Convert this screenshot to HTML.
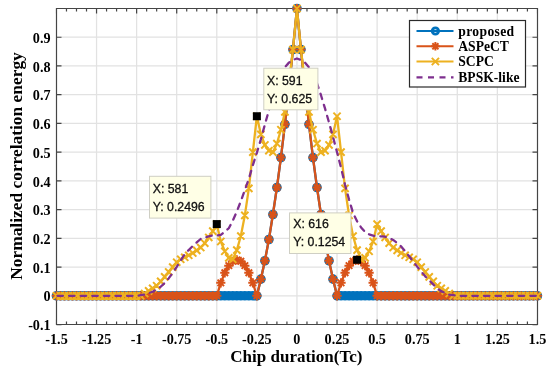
<!DOCTYPE html><html><head><meta charset="utf-8"><style>html,body{margin:0;padding:0;background:#fff;width:550px;height:370px;overflow:hidden}</style></head><body><svg width="550" height="370" viewBox="0 0 550 370" style="position:absolute;left:0;top:0">
<rect x="0" y="0" width="550" height="370" fill="#fff"/>
<path d="M96.54,8.5V324.5M136.62,8.5V324.5M176.70,8.5V324.5M216.78,8.5V324.5M256.87,8.5V324.5M296.95,8.5V324.5M337.03,8.5V324.5M377.12,8.5V324.5M417.20,8.5V324.5M457.28,8.5V324.5M497.36,8.5V324.5M56.5,295.80H537.5M56.5,267.07H537.5M56.5,238.34H537.5M56.5,209.61H537.5M56.5,180.88H537.5M56.5,152.15H537.5M56.5,123.42H537.5M56.5,94.69H537.5M56.5,65.96H537.5M56.5,37.23H537.5" stroke="#e2e2e2" stroke-width="1.25" fill="none"/>
<path d="M56.5,8.5H537.5V324.5H56.5ZM56.45,324.5v-5M56.45,8.5v5M96.54,324.5v-5M96.54,8.5v5M136.62,324.5v-5M136.62,8.5v5M176.7,324.5v-5M176.7,8.5v5M216.78,324.5v-5M216.78,8.5v5M256.87,324.5v-5M256.87,8.5v5M296.95,324.5v-5M296.95,8.5v5M337.03,324.5v-5M337.03,8.5v5M377.12,324.5v-5M377.12,8.5v5M417.2,324.5v-5M417.2,8.5v5M457.28,324.5v-5M457.28,8.5v5M497.36,324.5v-5M497.36,8.5v5M537.44,324.5v-5M537.44,8.5v5M66.48,324.5v-3M66.48,8.5v3M76.5,324.5v-3M76.5,8.5v3M86.52,324.5v-3M86.52,8.5v3M106.56,324.5v-3M106.56,8.5v3M116.58,324.5v-3M116.58,8.5v3M126.6,324.5v-3M126.6,8.5v3M146.64,324.5v-3M146.64,8.5v3M156.66,324.5v-3M156.66,8.5v3M166.68,324.5v-3M166.68,8.5v3M186.72,324.5v-3M186.72,8.5v3M196.74,324.5v-3M196.74,8.5v3M206.76,324.5v-3M206.76,8.5v3M226.81,324.5v-3M226.81,8.5v3M236.83,324.5v-3M236.83,8.5v3M246.85,324.5v-3M246.85,8.5v3M266.89,324.5v-3M266.89,8.5v3M276.91,324.5v-3M276.91,8.5v3M286.93,324.5v-3M286.93,8.5v3M306.97,324.5v-3M306.97,8.5v3M316.99,324.5v-3M316.99,8.5v3M327.01,324.5v-3M327.01,8.5v3M347.05,324.5v-3M347.05,8.5v3M357.07,324.5v-3M357.07,8.5v3M367.09,324.5v-3M367.09,8.5v3M387.14,324.5v-3M387.14,8.5v3M397.16,324.5v-3M397.16,8.5v3M407.18,324.5v-3M407.18,8.5v3M427.22,324.5v-3M427.22,8.5v3M437.24,324.5v-3M437.24,8.5v3M447.26,324.5v-3M447.26,8.5v3M467.3,324.5v-3M467.3,8.5v3M477.32,324.5v-3M477.32,8.5v3M487.34,324.5v-3M487.34,8.5v3M507.38,324.5v-3M507.38,8.5v3M517.4,324.5v-3M517.4,8.5v3M527.42,324.5v-3M527.42,8.5v3M56.5,324.53h5M537.5,324.53h-5M56.5,295.8h5M537.5,295.8h-5M56.5,267.07h5M537.5,267.07h-5M56.5,238.34h5M537.5,238.34h-5M56.5,209.61h5M537.5,209.61h-5M56.5,180.88h5M537.5,180.88h-5M56.5,152.15h5M537.5,152.15h-5M56.5,123.42h5M537.5,123.42h-5M56.5,94.69h5M537.5,94.69h-5M56.5,65.96h5M537.5,65.96h-5M56.5,37.23h5M537.5,37.23h-5" stroke="#454545" stroke-width="1.2" fill="none"/>
<polyline points="56.45,295.80 60.46,295.80 64.47,295.80 68.48,295.80 72.49,295.80 76.50,295.80 80.50,295.80 84.51,295.80 88.52,295.80 92.53,295.80 96.54,295.80 100.55,295.80 104.55,295.80 108.56,295.80 112.57,295.80 116.58,295.80 120.59,295.80 124.60,295.80 128.60,295.80 132.61,295.80 136.62,295.80 140.63,295.80 144.64,295.80 148.64,295.80 152.65,295.80 156.66,295.80 160.67,295.80 164.68,295.80 168.69,295.80 172.69,295.80 176.70,295.80 180.71,295.80 184.72,295.80 188.73,295.80 192.74,295.80 196.74,295.80 200.75,295.80 204.76,295.80 208.77,295.80 212.78,295.80 216.78,295.80 220.79,295.80 224.80,295.80 228.81,295.80 232.82,295.80 236.83,295.80 240.83,295.80 244.84,295.80 248.85,295.80 252.86,295.80 256.87,295.80 260.88,279.14 264.88,260.75 268.89,239.49 272.90,214.49 276.91,187.49 280.92,157.61 284.93,124.28 288.93,87.51 292.94,49.58 296.95,8.50 300.96,49.58 304.97,87.51 308.97,124.28 312.98,157.61 316.99,187.49 321.00,214.49 325.01,239.49 329.02,260.75 333.02,279.14 337.03,295.80 341.04,295.80 345.05,295.80 349.06,295.80 353.07,295.80 357.07,295.80 361.08,295.80 365.09,295.80 369.10,295.80 373.11,295.80 377.12,295.80 381.12,295.80 385.13,295.80 389.14,295.80 393.15,295.80 397.16,295.80 401.16,295.80 405.17,295.80 409.18,295.80 413.19,295.80 417.20,295.80 421.21,295.80 425.21,295.80 429.22,295.80 433.23,295.80 437.24,295.80 441.25,295.80 445.26,295.80 449.26,295.80 453.27,295.80 457.28,295.80 461.29,295.80 465.30,295.80 469.30,295.80 473.31,295.80 477.32,295.80 481.33,295.80 485.34,295.80 489.35,295.80 493.35,295.80 497.36,295.80 501.37,295.80 505.38,295.80 509.39,295.80 513.40,295.80 517.40,295.80 521.41,295.80 525.42,295.80 529.43,295.80 533.44,295.80 537.44,295.80" fill="none" stroke="#0072BD" stroke-width="2.3" stroke-linejoin="round" stroke-linecap="round" />
<g><circle cx="56.45" cy="295.80" r="3.5" fill="#0072BD" stroke="#0072BD" stroke-width="2.6"/><circle cx="60.46" cy="295.80" r="3.5" fill="#0072BD" stroke="#0072BD" stroke-width="2.6"/><circle cx="64.47" cy="295.80" r="3.5" fill="#0072BD" stroke="#0072BD" stroke-width="2.6"/><circle cx="68.48" cy="295.80" r="3.5" fill="#0072BD" stroke="#0072BD" stroke-width="2.6"/><circle cx="72.49" cy="295.80" r="3.5" fill="#0072BD" stroke="#0072BD" stroke-width="2.6"/><circle cx="76.50" cy="295.80" r="3.5" fill="#0072BD" stroke="#0072BD" stroke-width="2.6"/><circle cx="80.50" cy="295.80" r="3.5" fill="#0072BD" stroke="#0072BD" stroke-width="2.6"/><circle cx="84.51" cy="295.80" r="3.5" fill="#0072BD" stroke="#0072BD" stroke-width="2.6"/><circle cx="88.52" cy="295.80" r="3.5" fill="#0072BD" stroke="#0072BD" stroke-width="2.6"/><circle cx="92.53" cy="295.80" r="3.5" fill="#0072BD" stroke="#0072BD" stroke-width="2.6"/><circle cx="96.54" cy="295.80" r="3.5" fill="#0072BD" stroke="#0072BD" stroke-width="2.6"/><circle cx="100.55" cy="295.80" r="3.5" fill="#0072BD" stroke="#0072BD" stroke-width="2.6"/><circle cx="104.55" cy="295.80" r="3.5" fill="#0072BD" stroke="#0072BD" stroke-width="2.6"/><circle cx="108.56" cy="295.80" r="3.5" fill="#0072BD" stroke="#0072BD" stroke-width="2.6"/><circle cx="112.57" cy="295.80" r="3.5" fill="#0072BD" stroke="#0072BD" stroke-width="2.6"/><circle cx="116.58" cy="295.80" r="3.5" fill="#0072BD" stroke="#0072BD" stroke-width="2.6"/><circle cx="120.59" cy="295.80" r="3.5" fill="#0072BD" stroke="#0072BD" stroke-width="2.6"/><circle cx="124.60" cy="295.80" r="3.5" fill="#0072BD" stroke="#0072BD" stroke-width="2.6"/><circle cx="128.60" cy="295.80" r="3.5" fill="#0072BD" stroke="#0072BD" stroke-width="2.6"/><circle cx="132.61" cy="295.80" r="3.5" fill="#0072BD" stroke="#0072BD" stroke-width="2.6"/><circle cx="136.62" cy="295.80" r="3.5" fill="#0072BD" stroke="#0072BD" stroke-width="2.6"/><circle cx="140.63" cy="295.80" r="3.5" fill="#0072BD" stroke="#0072BD" stroke-width="2.6"/><circle cx="144.64" cy="295.80" r="3.5" fill="#0072BD" stroke="#0072BD" stroke-width="2.6"/><circle cx="148.64" cy="295.80" r="3.5" fill="#0072BD" stroke="#0072BD" stroke-width="2.6"/><circle cx="152.65" cy="295.80" r="3.5" fill="#0072BD" stroke="#0072BD" stroke-width="2.6"/><circle cx="156.66" cy="295.80" r="3.5" fill="#0072BD" stroke="#0072BD" stroke-width="2.6"/><circle cx="160.67" cy="295.80" r="3.5" fill="#0072BD" stroke="#0072BD" stroke-width="2.6"/><circle cx="164.68" cy="295.80" r="3.5" fill="#0072BD" stroke="#0072BD" stroke-width="2.6"/><circle cx="168.69" cy="295.80" r="3.5" fill="#0072BD" stroke="#0072BD" stroke-width="2.6"/><circle cx="172.69" cy="295.80" r="3.5" fill="#0072BD" stroke="#0072BD" stroke-width="2.6"/><circle cx="176.70" cy="295.80" r="3.5" fill="#0072BD" stroke="#0072BD" stroke-width="2.6"/><circle cx="180.71" cy="295.80" r="3.5" fill="#0072BD" stroke="#0072BD" stroke-width="2.6"/><circle cx="184.72" cy="295.80" r="3.5" fill="#0072BD" stroke="#0072BD" stroke-width="2.6"/><circle cx="188.73" cy="295.80" r="3.5" fill="#0072BD" stroke="#0072BD" stroke-width="2.6"/><circle cx="192.74" cy="295.80" r="3.5" fill="#0072BD" stroke="#0072BD" stroke-width="2.6"/><circle cx="196.74" cy="295.80" r="3.5" fill="#0072BD" stroke="#0072BD" stroke-width="2.6"/><circle cx="200.75" cy="295.80" r="3.5" fill="#0072BD" stroke="#0072BD" stroke-width="2.6"/><circle cx="204.76" cy="295.80" r="3.5" fill="#0072BD" stroke="#0072BD" stroke-width="2.6"/><circle cx="208.77" cy="295.80" r="3.5" fill="#0072BD" stroke="#0072BD" stroke-width="2.6"/><circle cx="212.78" cy="295.80" r="3.5" fill="#0072BD" stroke="#0072BD" stroke-width="2.6"/><circle cx="216.78" cy="295.80" r="3.5" fill="#0072BD" stroke="#0072BD" stroke-width="2.6"/><circle cx="220.79" cy="295.80" r="3.5" fill="#0072BD" stroke="#0072BD" stroke-width="2.6"/><circle cx="224.80" cy="295.80" r="3.5" fill="#0072BD" stroke="#0072BD" stroke-width="2.6"/><circle cx="228.81" cy="295.80" r="3.5" fill="#0072BD" stroke="#0072BD" stroke-width="2.6"/><circle cx="232.82" cy="295.80" r="3.5" fill="#0072BD" stroke="#0072BD" stroke-width="2.6"/><circle cx="236.83" cy="295.80" r="3.5" fill="#0072BD" stroke="#0072BD" stroke-width="2.6"/><circle cx="240.83" cy="295.80" r="3.5" fill="#0072BD" stroke="#0072BD" stroke-width="2.6"/><circle cx="244.84" cy="295.80" r="3.5" fill="#0072BD" stroke="#0072BD" stroke-width="2.6"/><circle cx="248.85" cy="295.80" r="3.5" fill="#0072BD" stroke="#0072BD" stroke-width="2.6"/><circle cx="252.86" cy="295.80" r="3.5" fill="#0072BD" stroke="#0072BD" stroke-width="2.6"/><circle cx="256.87" cy="295.80" r="3.5" fill="#0072BD" stroke="#0072BD" stroke-width="2.6"/><circle cx="260.88" cy="279.14" r="3.5" fill="#0072BD" stroke="#0072BD" stroke-width="2.6"/><circle cx="264.88" cy="260.75" r="3.5" fill="#0072BD" stroke="#0072BD" stroke-width="2.6"/><circle cx="268.89" cy="239.49" r="3.5" fill="#0072BD" stroke="#0072BD" stroke-width="2.6"/><circle cx="272.90" cy="214.49" r="3.5" fill="#0072BD" stroke="#0072BD" stroke-width="2.6"/><circle cx="276.91" cy="187.49" r="3.5" fill="#0072BD" stroke="#0072BD" stroke-width="2.6"/><circle cx="280.92" cy="157.61" r="3.5" fill="#0072BD" stroke="#0072BD" stroke-width="2.6"/><circle cx="284.93" cy="124.28" r="3.5" fill="#0072BD" stroke="#0072BD" stroke-width="2.6"/><circle cx="288.93" cy="87.51" r="3.5" fill="#0072BD" stroke="#0072BD" stroke-width="2.6"/><circle cx="292.94" cy="49.58" r="3.5" fill="#0072BD" stroke="#0072BD" stroke-width="2.6"/><circle cx="296.95" cy="8.50" r="3.5" fill="#0072BD" stroke="#0072BD" stroke-width="2.6"/><circle cx="300.96" cy="49.58" r="3.5" fill="#0072BD" stroke="#0072BD" stroke-width="2.6"/><circle cx="304.97" cy="87.51" r="3.5" fill="#0072BD" stroke="#0072BD" stroke-width="2.6"/><circle cx="308.97" cy="124.28" r="3.5" fill="#0072BD" stroke="#0072BD" stroke-width="2.6"/><circle cx="312.98" cy="157.61" r="3.5" fill="#0072BD" stroke="#0072BD" stroke-width="2.6"/><circle cx="316.99" cy="187.49" r="3.5" fill="#0072BD" stroke="#0072BD" stroke-width="2.6"/><circle cx="321.00" cy="214.49" r="3.5" fill="#0072BD" stroke="#0072BD" stroke-width="2.6"/><circle cx="325.01" cy="239.49" r="3.5" fill="#0072BD" stroke="#0072BD" stroke-width="2.6"/><circle cx="329.02" cy="260.75" r="3.5" fill="#0072BD" stroke="#0072BD" stroke-width="2.6"/><circle cx="333.02" cy="279.14" r="3.5" fill="#0072BD" stroke="#0072BD" stroke-width="2.6"/><circle cx="337.03" cy="295.80" r="3.5" fill="#0072BD" stroke="#0072BD" stroke-width="2.6"/><circle cx="341.04" cy="295.80" r="3.5" fill="#0072BD" stroke="#0072BD" stroke-width="2.6"/><circle cx="345.05" cy="295.80" r="3.5" fill="#0072BD" stroke="#0072BD" stroke-width="2.6"/><circle cx="349.06" cy="295.80" r="3.5" fill="#0072BD" stroke="#0072BD" stroke-width="2.6"/><circle cx="353.07" cy="295.80" r="3.5" fill="#0072BD" stroke="#0072BD" stroke-width="2.6"/><circle cx="357.07" cy="295.80" r="3.5" fill="#0072BD" stroke="#0072BD" stroke-width="2.6"/><circle cx="361.08" cy="295.80" r="3.5" fill="#0072BD" stroke="#0072BD" stroke-width="2.6"/><circle cx="365.09" cy="295.80" r="3.5" fill="#0072BD" stroke="#0072BD" stroke-width="2.6"/><circle cx="369.10" cy="295.80" r="3.5" fill="#0072BD" stroke="#0072BD" stroke-width="2.6"/><circle cx="373.11" cy="295.80" r="3.5" fill="#0072BD" stroke="#0072BD" stroke-width="2.6"/><circle cx="377.12" cy="295.80" r="3.5" fill="#0072BD" stroke="#0072BD" stroke-width="2.6"/><circle cx="381.12" cy="295.80" r="3.5" fill="#0072BD" stroke="#0072BD" stroke-width="2.6"/><circle cx="385.13" cy="295.80" r="3.5" fill="#0072BD" stroke="#0072BD" stroke-width="2.6"/><circle cx="389.14" cy="295.80" r="3.5" fill="#0072BD" stroke="#0072BD" stroke-width="2.6"/><circle cx="393.15" cy="295.80" r="3.5" fill="#0072BD" stroke="#0072BD" stroke-width="2.6"/><circle cx="397.16" cy="295.80" r="3.5" fill="#0072BD" stroke="#0072BD" stroke-width="2.6"/><circle cx="401.16" cy="295.80" r="3.5" fill="#0072BD" stroke="#0072BD" stroke-width="2.6"/><circle cx="405.17" cy="295.80" r="3.5" fill="#0072BD" stroke="#0072BD" stroke-width="2.6"/><circle cx="409.18" cy="295.80" r="3.5" fill="#0072BD" stroke="#0072BD" stroke-width="2.6"/><circle cx="413.19" cy="295.80" r="3.5" fill="#0072BD" stroke="#0072BD" stroke-width="2.6"/><circle cx="417.20" cy="295.80" r="3.5" fill="#0072BD" stroke="#0072BD" stroke-width="2.6"/><circle cx="421.21" cy="295.80" r="3.5" fill="#0072BD" stroke="#0072BD" stroke-width="2.6"/><circle cx="425.21" cy="295.80" r="3.5" fill="#0072BD" stroke="#0072BD" stroke-width="2.6"/><circle cx="429.22" cy="295.80" r="3.5" fill="#0072BD" stroke="#0072BD" stroke-width="2.6"/><circle cx="433.23" cy="295.80" r="3.5" fill="#0072BD" stroke="#0072BD" stroke-width="2.6"/><circle cx="437.24" cy="295.80" r="3.5" fill="#0072BD" stroke="#0072BD" stroke-width="2.6"/><circle cx="441.25" cy="295.80" r="3.5" fill="#0072BD" stroke="#0072BD" stroke-width="2.6"/><circle cx="445.26" cy="295.80" r="3.5" fill="#0072BD" stroke="#0072BD" stroke-width="2.6"/><circle cx="449.26" cy="295.80" r="3.5" fill="#0072BD" stroke="#0072BD" stroke-width="2.6"/><circle cx="453.27" cy="295.80" r="3.5" fill="#0072BD" stroke="#0072BD" stroke-width="2.6"/><circle cx="457.28" cy="295.80" r="3.5" fill="#0072BD" stroke="#0072BD" stroke-width="2.6"/><circle cx="461.29" cy="295.80" r="3.5" fill="#0072BD" stroke="#0072BD" stroke-width="2.6"/><circle cx="465.30" cy="295.80" r="3.5" fill="#0072BD" stroke="#0072BD" stroke-width="2.6"/><circle cx="469.30" cy="295.80" r="3.5" fill="#0072BD" stroke="#0072BD" stroke-width="2.6"/><circle cx="473.31" cy="295.80" r="3.5" fill="#0072BD" stroke="#0072BD" stroke-width="2.6"/><circle cx="477.32" cy="295.80" r="3.5" fill="#0072BD" stroke="#0072BD" stroke-width="2.6"/><circle cx="481.33" cy="295.80" r="3.5" fill="#0072BD" stroke="#0072BD" stroke-width="2.6"/><circle cx="485.34" cy="295.80" r="3.5" fill="#0072BD" stroke="#0072BD" stroke-width="2.6"/><circle cx="489.35" cy="295.80" r="3.5" fill="#0072BD" stroke="#0072BD" stroke-width="2.6"/><circle cx="493.35" cy="295.80" r="3.5" fill="#0072BD" stroke="#0072BD" stroke-width="2.6"/><circle cx="497.36" cy="295.80" r="3.5" fill="#0072BD" stroke="#0072BD" stroke-width="2.6"/><circle cx="501.37" cy="295.80" r="3.5" fill="#0072BD" stroke="#0072BD" stroke-width="2.6"/><circle cx="505.38" cy="295.80" r="3.5" fill="#0072BD" stroke="#0072BD" stroke-width="2.6"/><circle cx="509.39" cy="295.80" r="3.5" fill="#0072BD" stroke="#0072BD" stroke-width="2.6"/><circle cx="513.40" cy="295.80" r="3.5" fill="#0072BD" stroke="#0072BD" stroke-width="2.6"/><circle cx="517.40" cy="295.80" r="3.5" fill="#0072BD" stroke="#0072BD" stroke-width="2.6"/><circle cx="521.41" cy="295.80" r="3.5" fill="#0072BD" stroke="#0072BD" stroke-width="2.6"/><circle cx="525.42" cy="295.80" r="3.5" fill="#0072BD" stroke="#0072BD" stroke-width="2.6"/><circle cx="529.43" cy="295.80" r="3.5" fill="#0072BD" stroke="#0072BD" stroke-width="2.6"/><circle cx="533.44" cy="295.80" r="3.5" fill="#0072BD" stroke="#0072BD" stroke-width="2.6"/><circle cx="537.44" cy="295.80" r="3.5" fill="#0072BD" stroke="#0072BD" stroke-width="2.6"/></g>
<polyline points="56.45,295.80 60.46,295.80 64.47,295.80 68.48,295.80 72.49,295.80 76.50,295.80 80.50,295.80 84.51,295.80 88.52,295.80 92.53,295.80 96.54,295.80 100.55,295.80 104.55,295.80 108.56,295.80 112.57,295.80 116.58,295.80 120.59,295.80 124.60,295.80 128.60,295.80 132.61,295.80 136.62,295.80 140.63,295.80 144.64,295.80 148.64,295.80 152.65,295.80 156.66,295.80 160.67,295.80 164.68,295.80 168.69,295.80 172.69,295.80 176.70,295.80 180.71,295.80 184.72,295.80 188.73,295.80 192.74,295.80 196.74,295.80 200.75,295.80 204.76,295.80 208.77,295.80 212.78,295.80 216.78,295.80 220.79,282.87 224.80,272.82 228.81,265.63 232.82,261.32 236.83,259.89 240.83,261.32 244.84,265.63 248.85,272.82 252.86,282.87 256.87,295.80 260.88,279.14 264.88,260.75 268.89,239.49 272.90,214.49 276.91,187.49 280.92,157.61 284.93,124.28 288.93,87.51 292.94,49.58 296.95,8.50 300.96,49.58 304.97,87.51 308.97,124.28 312.98,157.61 316.99,187.49 321.00,214.49 325.01,239.49 329.02,260.75 333.02,279.14 337.03,295.80 341.04,282.87 345.05,272.82 349.06,265.63 353.07,261.32 357.07,259.89 361.08,261.32 365.09,265.63 369.10,272.82 373.11,282.87 377.12,295.80 381.12,295.80 385.13,295.80 389.14,295.80 393.15,295.80 397.16,295.80 401.16,295.80 405.17,295.80 409.18,295.80 413.19,295.80 417.20,295.80 421.21,295.80 425.21,295.80 429.22,295.80 433.23,295.80 437.24,295.80 441.25,295.80 445.26,295.80 449.26,295.80 453.27,295.80 457.28,295.80 461.29,295.80 465.30,295.80 469.30,295.80 473.31,295.80 477.32,295.80 481.33,295.80 485.34,295.80 489.35,295.80 493.35,295.80 497.36,295.80 501.37,295.80 505.38,295.80 509.39,295.80 513.40,295.80 517.40,295.80 521.41,295.80 525.42,295.80 529.43,295.80 533.44,295.80 537.44,295.80" fill="none" stroke="#D95319" stroke-width="2.3" stroke-linejoin="round" stroke-linecap="round" />
<path d="M51.85,295.80H61.05M56.45,291.20V300.40M53.20,292.55L59.71,299.05M53.20,299.05L59.71,292.55M55.86,295.80H65.06M60.46,291.20V300.40M57.21,292.55L63.72,299.05M57.21,299.05L63.72,292.55M59.87,295.80H69.07M64.47,291.20V300.40M61.22,292.55L67.72,299.05M61.22,299.05L67.72,292.55M63.88,295.80H73.08M68.48,291.20V300.40M65.23,292.55L71.73,299.05M65.23,299.05L71.73,292.55M67.89,295.80H77.09M72.49,291.20V300.40M69.24,292.55L75.74,299.05M69.24,299.05L75.74,292.55M71.90,295.80H81.10M76.50,291.20V300.40M73.24,292.55L79.75,299.05M73.24,299.05L79.75,292.55M75.90,295.80H85.10M80.50,291.20V300.40M77.25,292.55L83.76,299.05M77.25,299.05L83.76,292.55M79.91,295.80H89.11M84.51,291.20V300.40M81.26,292.55L87.77,299.05M81.26,299.05L87.77,292.55M83.92,295.80H93.12M88.52,291.20V300.40M85.27,292.55L91.77,299.05M85.27,299.05L91.77,292.55M87.93,295.80H97.13M92.53,291.20V300.40M89.28,292.55L95.78,299.05M89.28,299.05L95.78,292.55M91.94,295.80H101.14M96.54,291.20V300.40M93.28,292.55L99.79,299.05M93.28,299.05L99.79,292.55M95.95,295.80H105.15M100.55,291.20V300.40M97.29,292.55L103.80,299.05M97.29,299.05L103.80,292.55M99.95,295.80H109.15M104.55,291.20V300.40M101.30,292.55L107.81,299.05M101.30,299.05L107.81,292.55M103.96,295.80H113.16M108.56,291.20V300.40M105.31,292.55L111.81,299.05M105.31,299.05L111.81,292.55M107.97,295.80H117.17M112.57,291.20V300.40M109.32,292.55L115.82,299.05M109.32,299.05L115.82,292.55M111.98,295.80H121.18M116.58,291.20V300.40M113.33,292.55L119.83,299.05M113.33,299.05L119.83,292.55M115.99,295.80H125.19M120.59,291.20V300.40M117.33,292.55L123.84,299.05M117.33,299.05L123.84,292.55M120.00,295.80H129.20M124.60,291.20V300.40M121.34,292.55L127.85,299.05M121.34,299.05L127.85,292.55M124.00,295.80H133.20M128.60,291.20V300.40M125.35,292.55L131.86,299.05M125.35,299.05L131.86,292.55M128.01,295.80H137.21M132.61,291.20V300.40M129.36,292.55L135.86,299.05M129.36,299.05L135.86,292.55M132.02,295.80H141.22M136.62,291.20V300.40M133.37,292.55L139.87,299.05M133.37,299.05L139.87,292.55M136.03,295.80H145.23M140.63,291.20V300.40M137.38,292.55L143.88,299.05M137.38,299.05L143.88,292.55M140.04,295.80H149.24M144.64,291.20V300.40M141.38,292.55L147.89,299.05M141.38,299.05L147.89,292.55M144.04,295.80H153.24M148.64,291.20V300.40M145.39,292.55L151.90,299.05M145.39,299.05L151.90,292.55M148.05,295.80H157.25M152.65,291.20V300.40M149.40,292.55L155.91,299.05M149.40,299.05L155.91,292.55M152.06,295.80H161.26M156.66,291.20V300.40M153.41,292.55L159.91,299.05M153.41,299.05L159.91,292.55M156.07,295.80H165.27M160.67,291.20V300.40M157.42,292.55L163.92,299.05M157.42,299.05L163.92,292.55M160.08,295.80H169.28M164.68,291.20V300.40M161.43,292.55L167.93,299.05M161.43,299.05L167.93,292.55M164.09,295.80H173.29M168.69,291.20V300.40M165.43,292.55L171.94,299.05M165.43,299.05L171.94,292.55M168.09,295.80H177.29M172.69,291.20V300.40M169.44,292.55L175.95,299.05M169.44,299.05L175.95,292.55M172.10,295.80H181.30M176.70,291.20V300.40M173.45,292.55L179.96,299.05M173.45,299.05L179.96,292.55M176.11,295.80H185.31M180.71,291.20V300.40M177.46,292.55L183.96,299.05M177.46,299.05L183.96,292.55M180.12,295.80H189.32M184.72,291.20V300.40M181.47,292.55L187.97,299.05M181.47,299.05L187.97,292.55M184.13,295.80H193.33M188.73,291.20V300.40M185.47,292.55L191.98,299.05M185.47,299.05L191.98,292.55M188.14,295.80H197.34M192.74,291.20V300.40M189.48,292.55L195.99,299.05M189.48,299.05L195.99,292.55M192.14,295.80H201.34M196.74,291.20V300.40M193.49,292.55L200.00,299.05M193.49,299.05L200.00,292.55M196.15,295.80H205.35M200.75,291.20V300.40M197.50,292.55L204.00,299.05M197.50,299.05L204.00,292.55M200.16,295.80H209.36M204.76,291.20V300.40M201.51,292.55L208.01,299.05M201.51,299.05L208.01,292.55M204.17,295.80H213.37M208.77,291.20V300.40M205.52,292.55L212.02,299.05M205.52,299.05L212.02,292.55M208.18,295.80H217.38M212.78,291.20V300.40M209.52,292.55L216.03,299.05M209.52,299.05L216.03,292.55M212.18,295.80H221.38M216.78,291.20V300.40M213.53,292.55L220.04,299.05M213.53,299.05L220.04,292.55M216.19,282.87H225.39M220.79,278.27V287.47M217.54,279.62L224.05,286.12M217.54,286.12L224.05,279.62M220.20,272.82H229.40M224.80,268.22V277.42M221.55,269.56L228.05,276.07M221.55,276.07L228.05,269.56M224.21,265.63H233.41M228.81,261.03V270.23M225.56,262.38L232.06,268.89M225.56,268.89L232.06,262.38M228.22,261.32H237.42M232.82,256.72V265.92M229.57,258.07L236.07,264.58M229.57,264.58L236.07,258.07M232.23,259.89H241.43M236.83,255.29V264.49M233.57,256.63L240.08,263.14M233.57,263.14L240.08,256.63M236.23,261.32H245.43M240.83,256.72V265.92M237.58,258.07L244.09,264.58M237.58,264.58L244.09,258.07M240.24,265.63H249.44M244.84,261.03V270.23M241.59,262.38L248.10,268.89M241.59,268.89L248.10,262.38M244.25,272.82H253.45M248.85,268.22V277.42M245.60,269.56L252.10,276.07M245.60,276.07L252.10,269.56M248.26,282.87H257.46M252.86,278.27V287.47M249.61,279.62L256.11,286.12M249.61,286.12L256.11,279.62M252.27,295.80H261.47M256.87,291.20V300.40M253.61,292.55L260.12,299.05M253.61,299.05L260.12,292.55M256.28,279.14H265.48M260.88,274.54V283.74M257.62,275.88L264.13,282.39M257.62,282.39L264.13,275.88M260.28,260.75H269.48M264.88,256.15V265.35M261.63,257.50L268.14,264.00M261.63,264.00L268.14,257.50M264.29,239.49H273.49M268.89,234.89V244.09M265.64,236.24L272.14,242.74M265.64,242.74L272.14,236.24M268.30,214.49H277.50M272.90,209.89V219.09M269.65,211.24L276.15,217.75M269.65,217.75L276.15,211.24M272.31,187.49H281.51M276.91,182.89V192.09M273.66,184.24L280.16,190.74M273.66,190.74L280.16,184.24M276.32,157.61H285.52M280.92,153.01V162.21M277.66,154.36L284.17,160.86M277.66,160.86L284.17,154.36M280.33,124.28H289.53M284.93,119.68V128.88M281.67,121.03L288.18,127.53M281.67,127.53L288.18,121.03M284.33,87.51H293.53M288.93,82.91V92.11M285.68,84.25L292.19,90.76M285.68,90.76L292.19,84.25M288.34,49.58H297.54M292.94,44.98V54.18M289.69,46.33L296.19,52.84M289.69,52.84L296.19,46.33M292.35,8.50H301.55M296.95,3.90V13.10M293.70,5.25L300.20,11.75M293.70,11.75L300.20,5.25M296.36,49.58H305.56M300.96,44.98V54.18M297.71,46.33L304.21,52.84M297.71,52.84L304.21,46.33M300.37,87.51H309.57M304.97,82.91V92.11M301.71,84.25L308.22,90.76M301.71,90.76L308.22,84.25M304.37,124.28H313.57M308.97,119.68V128.88M305.72,121.03L312.23,127.53M305.72,127.53L312.23,121.03M308.38,157.61H317.58M312.98,153.01V162.21M309.73,154.36L316.24,160.86M309.73,160.86L316.24,154.36M312.39,187.49H321.59M316.99,182.89V192.09M313.74,184.24L320.24,190.74M313.74,190.74L320.24,184.24M316.40,214.49H325.60M321.00,209.89V219.09M317.75,211.24L324.25,217.75M317.75,217.75L324.25,211.24M320.41,239.49H329.61M325.01,234.89V244.09M321.76,236.24L328.26,242.74M321.76,242.74L328.26,236.24M324.42,260.75H333.62M329.02,256.15V265.35M325.76,257.50L332.27,264.00M325.76,264.00L332.27,257.50M328.42,279.14H337.62M333.02,274.54V283.74M329.77,275.88L336.28,282.39M329.77,282.39L336.28,275.88M332.43,295.80H341.63M337.03,291.20V300.40M333.78,292.55L340.29,299.05M333.78,299.05L340.29,292.55M336.44,282.87H345.64M341.04,278.27V287.47M337.79,279.62L344.29,286.12M337.79,286.12L344.29,279.62M340.45,272.82H349.65M345.05,268.22V277.42M341.80,269.56L348.30,276.07M341.80,276.07L348.30,269.56M344.46,265.63H353.66M349.06,261.03V270.23M345.80,262.38L352.31,268.89M345.80,268.89L352.31,262.38M348.47,261.32H357.67M353.07,256.72V265.92M349.81,258.07L356.32,264.58M349.81,264.58L356.32,258.07M352.47,259.89H361.67M357.07,255.29V264.49M353.82,256.63L360.33,263.14M353.82,263.14L360.33,256.63M356.48,261.32H365.68M361.08,256.72V265.92M357.83,258.07L364.33,264.58M357.83,264.58L364.33,258.07M360.49,265.63H369.69M365.09,261.03V270.23M361.84,262.38L368.34,268.89M361.84,268.89L368.34,262.38M364.50,272.82H373.70M369.10,268.22V277.42M365.85,269.56L372.35,276.07M365.85,276.07L372.35,269.56M368.51,282.87H377.71M373.11,278.27V287.47M369.85,279.62L376.36,286.12M369.85,286.12L376.36,279.62M372.51,295.80H381.72M377.12,291.20V300.40M373.86,292.55L380.37,299.05M373.86,299.05L380.37,292.55M376.52,295.80H385.72M381.12,291.20V300.40M377.87,292.55L384.38,299.05M377.87,299.05L384.38,292.55M380.53,295.80H389.73M385.13,291.20V300.40M381.88,292.55L388.38,299.05M381.88,299.05L388.38,292.55M384.54,295.80H393.74M389.14,291.20V300.40M385.89,292.55L392.39,299.05M385.89,299.05L392.39,292.55M388.55,295.80H397.75M393.15,291.20V300.40M389.90,292.55L396.40,299.05M389.90,299.05L396.40,292.55M392.56,295.80H401.76M397.16,291.20V300.40M393.90,292.55L400.41,299.05M393.90,299.05L400.41,292.55M396.56,295.80H405.76M401.16,291.20V300.40M397.91,292.55L404.42,299.05M397.91,299.05L404.42,292.55M400.57,295.80H409.77M405.17,291.20V300.40M401.92,292.55L408.43,299.05M401.92,299.05L408.43,292.55M404.58,295.80H413.78M409.18,291.20V300.40M405.93,292.55L412.43,299.05M405.93,299.05L412.43,292.55M408.59,295.80H417.79M413.19,291.20V300.40M409.94,292.55L416.44,299.05M409.94,299.05L416.44,292.55M412.60,295.80H421.80M417.20,291.20V300.40M413.94,292.55L420.45,299.05M413.94,299.05L420.45,292.55M416.61,295.80H425.81M421.21,291.20V300.40M417.95,292.55L424.46,299.05M417.95,299.05L424.46,292.55M420.61,295.80H429.81M425.21,291.20V300.40M421.96,292.55L428.47,299.05M421.96,299.05L428.47,292.55M424.62,295.80H433.82M429.22,291.20V300.40M425.97,292.55L432.47,299.05M425.97,299.05L432.47,292.55M428.63,295.80H437.83M433.23,291.20V300.40M429.98,292.55L436.48,299.05M429.98,299.05L436.48,292.55M432.64,295.80H441.84M437.24,291.20V300.40M433.99,292.55L440.49,299.05M433.99,299.05L440.49,292.55M436.65,295.80H445.85M441.25,291.20V300.40M437.99,292.55L444.50,299.05M437.99,299.05L444.50,292.55M440.66,295.80H449.86M445.26,291.20V300.40M442.00,292.55L448.51,299.05M442.00,299.05L448.51,292.55M444.66,295.80H453.86M449.26,291.20V300.40M446.01,292.55L452.52,299.05M446.01,299.05L452.52,292.55M448.67,295.80H457.87M453.27,291.20V300.40M450.02,292.55L456.52,299.05M450.02,299.05L456.52,292.55M452.68,295.80H461.88M457.28,291.20V300.40M454.03,292.55L460.53,299.05M454.03,299.05L460.53,292.55M456.69,295.80H465.89M461.29,291.20V300.40M458.04,292.55L464.54,299.05M458.04,299.05L464.54,292.55M460.70,295.80H469.90M465.30,291.20V300.40M462.04,292.55L468.55,299.05M462.04,299.05L468.55,292.55M464.70,295.80H473.90M469.30,291.20V300.40M466.05,292.55L472.56,299.05M466.05,299.05L472.56,292.55M468.71,295.80H477.91M473.31,291.20V300.40M470.06,292.55L476.57,299.05M470.06,299.05L476.57,292.55M472.72,295.80H481.92M477.32,291.20V300.40M474.07,292.55L480.57,299.05M474.07,299.05L480.57,292.55M476.73,295.80H485.93M481.33,291.20V300.40M478.08,292.55L484.58,299.05M478.08,299.05L484.58,292.55M480.74,295.80H489.94M485.34,291.20V300.40M482.09,292.55L488.59,299.05M482.09,299.05L488.59,292.55M484.75,295.80H493.95M489.35,291.20V300.40M486.09,292.55L492.60,299.05M486.09,299.05L492.60,292.55M488.75,295.80H497.95M493.35,291.20V300.40M490.10,292.55L496.61,299.05M490.10,299.05L496.61,292.55M492.76,295.80H501.96M497.36,291.20V300.40M494.11,292.55L500.62,299.05M494.11,299.05L500.62,292.55M496.77,295.80H505.97M501.37,291.20V300.40M498.12,292.55L504.62,299.05M498.12,299.05L504.62,292.55M500.78,295.80H509.98M505.38,291.20V300.40M502.13,292.55L508.63,299.05M502.13,299.05L508.63,292.55M504.79,295.80H513.99M509.39,291.20V300.40M506.13,292.55L512.64,299.05M506.13,299.05L512.64,292.55M508.80,295.80H518.00M513.40,291.20V300.40M510.14,292.55L516.65,299.05M510.14,299.05L516.65,292.55M512.80,295.80H522.00M517.40,291.20V300.40M514.15,292.55L520.66,299.05M514.15,299.05L520.66,292.55M516.81,295.80H526.01M521.41,291.20V300.40M518.16,292.55L524.66,299.05M518.16,299.05L524.66,292.55M520.82,295.80H530.02M525.42,291.20V300.40M522.17,292.55L528.67,299.05M522.17,299.05L528.67,292.55M524.83,295.80H534.03M529.43,291.20V300.40M526.18,292.55L532.68,299.05M526.18,299.05L532.68,292.55M528.84,295.80H538.04M533.44,291.20V300.40M530.18,292.55L536.69,299.05M530.18,299.05L536.69,292.55M532.84,295.80H542.04M537.44,291.20V300.40M534.19,292.55L540.70,299.05M534.19,299.05L540.70,292.55" stroke="#D95319" stroke-width="2" fill="none"/>
<polyline points="56.45,295.80 60.46,295.80 64.47,295.80 68.48,295.80 72.49,295.80 76.50,295.80 80.50,295.80 84.51,295.80 88.52,295.80 92.53,295.80 96.54,295.80 100.55,295.80 104.55,295.80 108.56,295.80 112.57,295.80 116.58,295.80 120.59,295.80 124.60,295.80 128.60,295.80 132.61,295.80 136.62,295.80 140.63,295.80 144.64,293.50 148.64,290.92 152.65,288.33 156.66,285.74 160.67,281.44 164.68,276.84 168.69,271.95 172.69,267.07 176.70,262.19 180.71,259.31 184.72,257.30 188.73,255.29 192.74,252.99 196.74,250.41 200.75,247.53 204.76,243.22 208.77,237.48 212.78,231.16 216.78,224.09 220.79,241.50 224.80,251.27 228.81,257.88 232.82,259.31 236.83,250.12 240.83,236.04 244.84,215.36 248.85,188.35 252.86,152.15 256.87,116.24 260.88,134.34 264.88,144.97 268.89,150.71 272.90,152.15 276.91,143.53 280.92,129.74 284.93,111.93 288.93,83.20 292.94,49.58 296.95,8.50 300.96,49.58 304.97,83.20 308.97,111.93 312.98,129.74 316.99,143.53 321.00,152.15 325.01,150.71 329.02,144.97 333.02,134.34 337.03,116.24 341.04,152.15 345.05,188.35 349.06,215.36 353.07,236.04 357.07,250.12 361.08,259.31 365.09,257.88 369.10,251.27 373.11,241.50 377.12,224.09 381.12,231.16 385.13,237.48 389.14,243.22 393.15,247.53 397.16,250.41 401.16,252.99 405.17,255.29 409.18,257.30 413.19,259.31 417.20,262.19 421.21,267.07 425.21,271.95 429.22,276.84 433.23,281.44 437.24,285.74 441.25,288.33 445.26,290.92 449.26,293.50 453.27,295.80 457.28,295.80 461.29,295.80 465.30,295.80 469.30,295.80 473.31,295.80 477.32,295.80 481.33,295.80 485.34,295.80 489.35,295.80 493.35,295.80 497.36,295.80 501.37,295.80 505.38,295.80 509.39,295.80 513.40,295.80 517.40,295.80 521.41,295.80 525.42,295.80 529.43,295.80 533.44,295.80 537.44,295.80" fill="none" stroke="#EDB120" stroke-width="2.3" stroke-linejoin="round" stroke-linecap="round" />
<path d="M52.85,292.20L60.05,299.40M52.85,299.40L60.05,292.20M56.86,292.20L64.06,299.40M56.86,299.40L64.06,292.20M60.87,292.20L68.07,299.40M60.87,299.40L68.07,292.20M64.88,292.20L72.08,299.40M64.88,299.40L72.08,292.20M68.89,292.20L76.09,299.40M68.89,299.40L76.09,292.20M72.90,292.20L80.10,299.40M72.90,299.40L80.10,292.20M76.90,292.20L84.10,299.40M76.90,299.40L84.10,292.20M80.91,292.20L88.11,299.40M80.91,299.40L88.11,292.20M84.92,292.20L92.12,299.40M84.92,299.40L92.12,292.20M88.93,292.20L96.13,299.40M88.93,299.40L96.13,292.20M92.94,292.20L100.14,299.40M92.94,299.40L100.14,292.20M96.95,292.20L104.15,299.40M96.95,299.40L104.15,292.20M100.95,292.20L108.15,299.40M100.95,299.40L108.15,292.20M104.96,292.20L112.16,299.40M104.96,299.40L112.16,292.20M108.97,292.20L116.17,299.40M108.97,299.40L116.17,292.20M112.98,292.20L120.18,299.40M112.98,299.40L120.18,292.20M116.99,292.20L124.19,299.40M116.99,299.40L124.19,292.20M121.00,292.20L128.20,299.40M121.00,299.40L128.20,292.20M125.00,292.20L132.20,299.40M125.00,299.40L132.20,292.20M129.01,292.20L136.21,299.40M129.01,299.40L136.21,292.20M133.02,292.20L140.22,299.40M133.02,299.40L140.22,292.20M137.03,292.20L144.23,299.40M137.03,299.40L144.23,292.20M141.04,289.90L148.24,297.10M141.04,297.10L148.24,289.90M145.04,287.32L152.24,294.52M145.04,294.52L152.24,287.32M149.05,284.73L156.25,291.93M149.05,291.93L156.25,284.73M153.06,282.14L160.26,289.34M153.06,289.34L160.26,282.14M157.07,277.83L164.27,285.04M157.07,285.04L164.27,277.83M161.08,273.24L168.28,280.44M161.08,280.44L168.28,273.24M165.09,268.35L172.29,275.55M165.09,275.55L172.29,268.35M169.09,263.47L176.29,270.67M169.09,270.67L176.29,263.47M173.10,258.59L180.30,265.79M173.10,265.79L180.30,258.59M177.11,255.71L184.31,262.91M177.11,262.91L184.31,255.71M181.12,253.70L188.32,260.90M181.12,260.90L188.32,253.70M185.13,251.69L192.33,258.89M185.13,258.89L192.33,251.69M189.14,249.39L196.34,256.59M189.14,256.59L196.34,249.39M193.14,246.81L200.34,254.01M193.14,254.01L200.34,246.81M197.15,243.93L204.35,251.13M197.15,251.13L204.35,243.93M201.16,239.62L208.36,246.82M201.16,246.82L208.36,239.62M205.17,233.88L212.37,241.08M205.17,241.08L212.37,233.88M209.18,227.56L216.38,234.76M209.18,234.76L216.38,227.56M213.18,220.49L220.38,227.69M213.18,227.69L220.38,220.49M217.19,237.90L224.39,245.10M217.19,245.10L224.39,237.90M221.20,247.67L228.40,254.87M221.20,254.87L228.40,247.67M225.21,254.28L232.41,261.48M225.21,261.48L232.41,254.28M229.22,255.71L236.42,262.91M229.22,262.91L236.42,255.71M233.23,246.52L240.43,253.72M233.23,253.72L240.43,246.52M237.23,232.44L244.43,239.64M237.23,239.64L244.43,232.44M241.24,211.76L248.44,218.96M241.24,218.96L248.44,211.76M245.25,184.75L252.45,191.95M245.25,191.95L252.45,184.75M249.26,148.55L256.46,155.75M249.26,155.75L256.46,148.55M253.27,112.64L260.47,119.84M253.27,119.84L260.47,112.64M257.28,130.74L264.48,137.94M257.28,137.94L264.48,130.74M261.28,141.37L268.48,148.57M261.28,148.57L268.48,141.37M265.29,147.11L272.49,154.31M265.29,154.31L272.49,147.11M269.30,148.55L276.50,155.75M269.30,155.75L276.50,148.55M273.31,139.93L280.51,147.13M273.31,147.13L280.51,139.93M277.32,126.14L284.52,133.34M277.32,133.34L284.52,126.14M281.33,108.33L288.53,115.53M281.33,115.53L288.53,108.33M285.33,79.60L292.53,86.80M285.33,86.80L292.53,79.60M289.34,45.98L296.54,53.18M289.34,53.18L296.54,45.98M293.35,4.90L300.55,12.10M293.35,12.10L300.55,4.90M297.36,45.98L304.56,53.18M297.36,53.18L304.56,45.98M301.37,79.60L308.57,86.80M301.37,86.80L308.57,79.60M305.37,108.33L312.57,115.53M305.37,115.53L312.57,108.33M309.38,126.14L316.58,133.34M309.38,133.34L316.58,126.14M313.39,139.93L320.59,147.13M313.39,147.13L320.59,139.93M317.40,148.55L324.60,155.75M317.40,155.75L324.60,148.55M321.41,147.11L328.61,154.31M321.41,154.31L328.61,147.11M325.42,141.37L332.62,148.57M325.42,148.57L332.62,141.37M329.42,130.74L336.62,137.94M329.42,137.94L336.62,130.74M333.43,112.64L340.63,119.84M333.43,119.84L340.63,112.64M337.44,148.55L344.64,155.75M337.44,155.75L344.64,148.55M341.45,184.75L348.65,191.95M341.45,191.95L348.65,184.75M345.46,211.76L352.66,218.96M345.46,218.96L352.66,211.76M349.47,232.44L356.67,239.64M349.47,239.64L356.67,232.44M353.47,246.52L360.67,253.72M353.47,253.72L360.67,246.52M357.48,255.71L364.68,262.91M357.48,262.91L364.68,255.71M361.49,254.28L368.69,261.48M361.49,261.48L368.69,254.28M365.50,247.67L372.70,254.87M365.50,254.87L372.70,247.67M369.51,237.90L376.71,245.10M369.51,245.10L376.71,237.90M373.51,220.49L380.72,227.69M373.51,227.69L380.72,220.49M377.52,227.56L384.72,234.76M377.52,234.76L384.72,227.56M381.53,233.88L388.73,241.08M381.53,241.08L388.73,233.88M385.54,239.62L392.74,246.82M385.54,246.82L392.74,239.62M389.55,243.93L396.75,251.13M389.55,251.13L396.75,243.93M393.56,246.81L400.76,254.01M393.56,254.01L400.76,246.81M397.56,249.39L404.76,256.59M397.56,256.59L404.76,249.39M401.57,251.69L408.77,258.89M401.57,258.89L408.77,251.69M405.58,253.70L412.78,260.90M405.58,260.90L412.78,253.70M409.59,255.71L416.79,262.91M409.59,262.91L416.79,255.71M413.60,258.59L420.80,265.79M413.60,265.79L420.80,258.59M417.61,263.47L424.81,270.67M417.61,270.67L424.81,263.47M421.61,268.35L428.81,275.55M421.61,275.55L428.81,268.35M425.62,273.24L432.82,280.44M425.62,280.44L432.82,273.24M429.63,277.83L436.83,285.04M429.63,285.04L436.83,277.83M433.64,282.14L440.84,289.34M433.64,289.34L440.84,282.14M437.65,284.73L444.85,291.93M437.65,291.93L444.85,284.73M441.66,287.32L448.86,294.52M441.66,294.52L448.86,287.32M445.66,289.90L452.86,297.10M445.66,297.10L452.86,289.90M449.67,292.20L456.87,299.40M449.67,299.40L456.87,292.20M453.68,292.20L460.88,299.40M453.68,299.40L460.88,292.20M457.69,292.20L464.89,299.40M457.69,299.40L464.89,292.20M461.70,292.20L468.90,299.40M461.70,299.40L468.90,292.20M465.70,292.20L472.90,299.40M465.70,299.40L472.90,292.20M469.71,292.20L476.91,299.40M469.71,299.40L476.91,292.20M473.72,292.20L480.92,299.40M473.72,299.40L480.92,292.20M477.73,292.20L484.93,299.40M477.73,299.40L484.93,292.20M481.74,292.20L488.94,299.40M481.74,299.40L488.94,292.20M485.75,292.20L492.95,299.40M485.75,299.40L492.95,292.20M489.75,292.20L496.95,299.40M489.75,299.40L496.95,292.20M493.76,292.20L500.96,299.40M493.76,299.40L500.96,292.20M497.77,292.20L504.97,299.40M497.77,299.40L504.97,292.20M501.78,292.20L508.98,299.40M501.78,299.40L508.98,292.20M505.79,292.20L512.99,299.40M505.79,299.40L512.99,292.20M509.80,292.20L517.00,299.40M509.80,299.40L517.00,292.20M513.80,292.20L521.00,299.40M513.80,299.40L521.00,292.20M517.81,292.20L525.01,299.40M517.81,299.40L525.01,292.20M521.82,292.20L529.02,299.40M521.82,299.40L529.02,292.20M525.83,292.20L533.03,299.40M525.83,299.40L533.03,292.20M529.84,292.20L537.04,299.40M529.84,299.40L537.04,292.20M533.84,292.20L541.04,299.40M533.84,299.40L541.04,292.20" stroke="#EDB120" stroke-width="2" fill="none"/>
<polyline points="56.45,295.80 60.46,295.80 64.47,295.80 68.48,295.80 72.49,295.80 76.50,295.80 80.50,295.80 84.51,295.80 88.52,295.80 92.53,295.80 96.54,295.80 100.55,295.80 104.55,295.80 108.56,295.80 112.57,295.80 116.58,295.80 120.59,295.80 124.60,295.80 128.60,295.80 132.61,295.80 136.62,295.80 140.63,295.23 144.64,294.65 148.64,293.21 152.65,291.78 156.66,289.26 160.67,286.75 164.68,282.99 168.69,278.39 172.69,272.94 176.70,266.93 180.71,260.34 184.72,254.17 188.73,249.98 192.74,245.97 196.74,242.44 200.75,238.91 204.76,237.59 208.77,236.26 212.78,235.47 216.78,235.47 220.79,234.84 224.80,231.73 228.81,228.25 232.82,220.65 236.83,211.52 240.83,201.18 244.84,190.04 248.85,178.92 252.86,165.04 256.87,152.78 260.88,139.31 264.88,124.57 268.89,110.40 272.90,97.68 276.91,85.48 280.92,75.33 284.93,67.19 288.93,62.62 292.94,59.93 296.95,58.49 300.96,59.93 304.97,62.66 308.97,67.32 312.98,75.00 316.99,83.42 321.00,95.22 325.01,108.44 329.02,122.45 333.02,136.98 337.03,152.19 341.04,167.78 345.05,184.79 349.06,199.55 353.07,213.09 357.07,221.32 361.08,227.40 365.09,231.99 369.10,234.31 373.11,235.57 377.12,236.33 381.12,236.33 385.13,236.72 389.14,238.13 393.15,239.93 397.16,242.94 401.16,246.42 405.17,251.35 409.18,256.32 413.19,261.50 417.20,266.62 421.21,271.55 425.21,276.33 429.22,280.35 433.23,284.40 437.24,288.56 441.25,291.17 445.26,292.91 449.26,294.65 453.27,295.23 457.28,295.80 461.29,295.80 465.30,295.80 469.30,295.80 473.31,295.80 477.32,295.80 481.33,295.80 485.34,295.80 489.35,295.80 493.35,295.80 497.36,295.80 501.37,295.80 505.38,295.80 509.39,295.80 513.40,295.80 517.40,295.80 521.41,295.80 525.42,295.80 529.43,295.80 533.44,295.80 537.44,295.80" fill="none" stroke="#7E2F8E" stroke-width="2.3" stroke-linejoin="round" stroke-linecap="round" stroke-dasharray="5.5 6.1" stroke-dashoffset="-1.0" stroke-linecap="butt"/>
<g font-family="Liberation Serif, serif" font-weight="bold" font-size="14.2" fill="#000"><text x="56.5" y="343.6" text-anchor="middle">-1.5</text><text x="96.5" y="343.6" text-anchor="middle">-1.25</text><text x="136.6" y="343.6" text-anchor="middle">-1</text><text x="176.7" y="343.6" text-anchor="middle">-0.75</text><text x="216.8" y="343.6" text-anchor="middle">-0.5</text><text x="256.9" y="343.6" text-anchor="middle">-0.25</text><text x="296.9" y="343.6" text-anchor="middle">0</text><text x="337.0" y="343.6" text-anchor="middle">0.25</text><text x="377.1" y="343.6" text-anchor="middle">0.5</text><text x="417.2" y="343.6" text-anchor="middle">0.75</text><text x="457.3" y="343.6" text-anchor="middle">1</text><text x="497.4" y="343.6" text-anchor="middle">1.25</text><text x="537.4" y="343.6" text-anchor="middle">1.5</text><text x="50.6" y="330.1" text-anchor="end">-0.1</text><text x="50.6" y="301.4" text-anchor="end">0</text><text x="50.6" y="272.7" text-anchor="end">0.1</text><text x="50.6" y="243.9" text-anchor="end">0.2</text><text x="50.6" y="215.2" text-anchor="end">0.3</text><text x="50.6" y="186.5" text-anchor="end">0.4</text><text x="50.6" y="157.8" text-anchor="end">0.5</text><text x="50.6" y="129.0" text-anchor="end">0.6</text><text x="50.6" y="100.3" text-anchor="end">0.7</text><text x="50.6" y="71.6" text-anchor="end">0.8</text><text x="50.6" y="42.8" text-anchor="end">0.9</text></g>
<text x="296.4" y="361.8" text-anchor="middle" font-family="Liberation Serif, serif" font-weight="bold" font-size="17">Chip duration(Tc)</text>
<text transform="translate(21.8,166) rotate(-90)" x="0" y="0" text-anchor="middle" font-family="Liberation Serif, serif" font-weight="bold" font-size="17.4">Normalized correlation energy</text>
<rect x="409.5" y="20.5" width="116" height="66.5" fill="#fff" stroke="#2a2a2a" stroke-width="1.2"/>
<path d="M416.5,31.0H453.5" stroke="#0072BD" stroke-width="2"/><circle cx="435.40" cy="31.00" r="3.2" fill="none" stroke="#0072BD" stroke-width="2.8"/><path d="M416.5,46.3H453.5" stroke="#D95319" stroke-width="2"/><path d="M431.10,46.30H439.70M435.40,42.00V50.60M432.36,43.26L438.44,49.34M432.36,49.34L438.44,43.26" stroke="#D95319" stroke-width="2"/><path d="M416.5,61.5H453.5" stroke="#EDB120" stroke-width="2"/><path d="M431.80,57.90L439.00,65.10M431.80,65.10L439.00,57.90" stroke="#EDB120" stroke-width="2"/><path d="M416.5,77.3H453.5" stroke="#7E2F8E" stroke-width="2.3" stroke-dasharray="6 5.5"/>
<g font-family="Liberation Serif, serif" font-weight="bold" font-size="13.6" fill="#000"><text x="458.3" y="35.6" letter-spacing="0.35">proposed</text><text x="458.3" y="50.9">ASPeCT</text><text x="458.3" y="66.1">SCPC</text><text x="458.3" y="81.9">BPSK-like</text></g>
<rect x="252.8675" y="112.23750000000001" width="8" height="8" fill="#000"/><rect x="263.8" y="68.2" width="54.099999999999966" height="41.599999999999994" fill="#ffffe6" stroke="#cfcfc4" stroke-width="1"/><g font-family="Liberation Sans, sans-serif" font-size="12.3" fill="#111" stroke="#111" stroke-width="0.3"><text x="267.0" y="85.4">X: 591</text><text x="267.0" y="102.8">Y: 0.625</text></g>
<rect x="212.78499999999997" y="220.08992" width="8" height="8" fill="#000"/><rect x="149.5" y="176.3" width="61.400000000000006" height="41.79999999999998" fill="#ffffe6" stroke="#cfcfc4" stroke-width="1"/><g font-family="Liberation Sans, sans-serif" font-size="12.3" fill="#111" stroke="#111" stroke-width="0.3"><text x="152.7" y="193.2">X: 581</text><text x="152.7" y="210.5">Y: 0.2496</text></g>
<rect x="353.07375" y="255.77258" width="8" height="8" fill="#000"/><rect x="289.5" y="212.9" width="61.39999999999998" height="40.599999999999994" fill="#ffffe6" stroke="#cfcfc4" stroke-width="1"/><g font-family="Liberation Sans, sans-serif" font-size="12.3" fill="#111" stroke="#111" stroke-width="0.3"><text x="293.2" y="228.2">X: 616</text><text x="293.2" y="246.3">Y: 0.1254</text></g>
</svg></body></html>
